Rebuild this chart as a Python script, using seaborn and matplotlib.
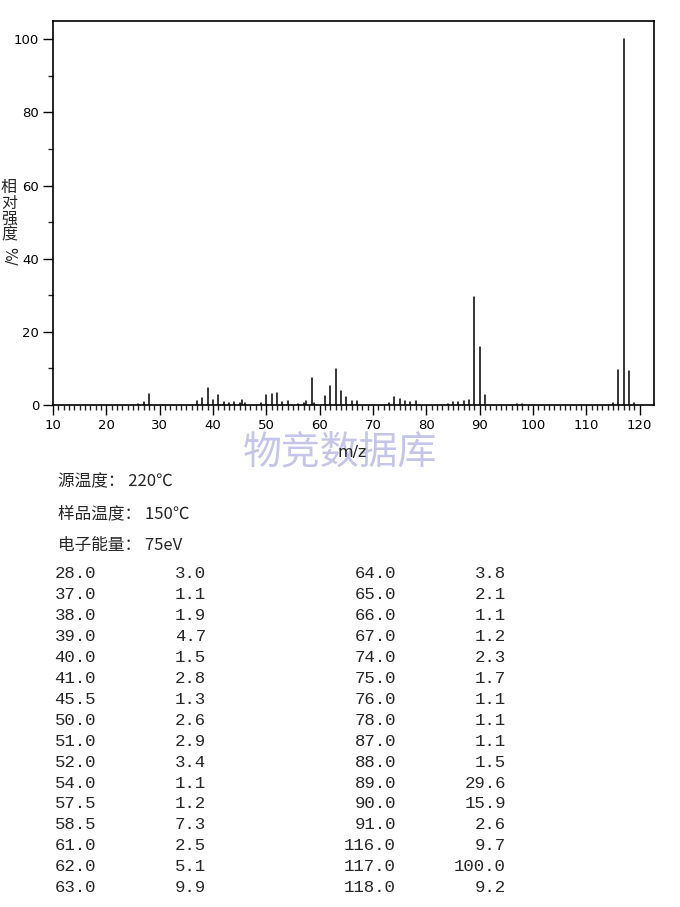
import numpy as np
import pandas as pd
import seaborn as sns
import matplotlib.pyplot as plt
from matplotlib.ticker import MultipleLocator, FixedLocator

sns.set_style("white")
plt.rcParams['font.family'] = ['DejaVu Sans', 'Noto Sans CJK SC']

# peaks listed in the table (m/z, relative intensity %)
mz_left = [28.0, 37.0, 38.0, 39.0, 40.0, 41.0, 45.5, 50.0, 51.0, 52.0, 54.0, 57.5, 58.5, 61.0, 62.0, 63.0]
int_left = [3.0, 1.1, 1.9, 4.7, 1.5, 2.8, 1.3, 2.6, 2.9, 3.4, 1.1, 1.2, 7.3, 2.5, 5.1, 9.9]
mz_right = [64.0, 65.0, 66.0, 67.0, 74.0, 75.0, 76.0, 78.0, 87.0, 88.0, 89.0, 90.0, 91.0, 116.0, 117.0, 118.0]
int_right = [3.8, 2.1, 1.1, 1.2, 2.3, 1.7, 1.1, 1.1, 1.1, 1.5, 29.6, 15.9, 2.6, 9.7, 100.0, 9.2]

# small peaks (<1%)
mz_small = [26, 27, 42, 43, 44, 45, 46, 49, 53, 56, 57, 59, 73, 77, 84, 85, 86, 97, 98, 115, 119]
int_small = [0.4, 0.8, 0.7, 0.6, 0.8, 0.5, 0.5, 0.6, 0.9, 0.4, 0.5, 0.6, 0.6, 0.8, 0.4, 0.7, 0.7, 0.3, 0.4, 0.5, 0.6]

info_lines = ["源温度： 220℃", "样品温度： 150℃", "电子能量： 75eV"]

mz_all = mz_left + mz_right + mz_small
int_all = int_left + int_right + int_small
rows = []
for i, (m, v) in enumerate(zip(mz_all, int_all)):
    rows.append({'peak': i, 'mz': m, 'inten': 0.0})
    rows.append({'peak': i, 'mz': m, 'inten': v})
df = pd.DataFrame(rows)

fig = plt.figure(figsize=(6.8, 9.07), dpi=100)
ax = fig.add_axes([53 / 680, 1 - 405 / 907, (654 - 53) / 680, (405 - 21) / 907])

sns.lineplot(data=df, x='mz', y='inten', units='peak', estimator=None,
             color='black', lw=1.1, ax=ax, legend=False, sort=False)

ax.set_xlim(10, 122.7)
ax.set_ylim(0, 105)
ax.xaxis.set_major_locator(MultipleLocator(10))
ax.xaxis.set_minor_locator(FixedLocator(np.arange(10, 121, 1)))
ax.yaxis.set_major_locator(MultipleLocator(20))
ax.yaxis.set_minor_locator(MultipleLocator(10))
ax.tick_params(which='major', direction='out', length=7, width=1, labelsize=9.5, pad=3,
               bottom=True, left=True, colors='black')
ax.tick_params(which='minor', direction='out', length=3.5, width=1, bottom=True, left=True)
ax.set_xlabel('')
ax.set_ylabel('')
for s in ax.spines.values():
    s.set_color('black')
    s.set_linewidth(1.2)

# stacked y label
fig.text(9 / 680, 1 - 211 / 907, "相\n对\n强\n度", ha='center', va='center',
         fontsize=11.5, family=['Noto Sans CJK SC'], linespacing=0.9)
fig.text(9 / 680, 1 - 256 / 907, "%/", ha='center', va='center', fontsize=10.5, rotation=-90)

# watermark and x label
fig.text(340 / 680, 1 - 453 / 907, "物竞数据库", ha='center', va='center', fontsize=28,
         color='#c5c5ea', family=['Noto Sans CJK SC'])
fig.text(352 / 680, 1 - 452 / 907, "m/z", ha='center', va='center', fontsize=11.5)

for k, line in enumerate(info_lines):
    fig.text(58 / 680, 1 - (482 + 31.5 * k) / 907, line, ha='left', va='center',
             fontsize=12, family=['Noto Sans CJK SC', 'DejaVu Sans'])

# peak table
for r in range(len(mz_left)):
    y = 1 - (574 + 20.9 * r) / 907
    cells = [(96, mz_left[r]), (206, int_left[r]), (396, mz_right[r]), (506, int_right[r])]
    for x, val in cells:
        fig.text(x / 680, y, f"{val:.1f}", ha='right', va='center', fontsize=12.5,
                 family='Liberation Mono')

fig.savefig('out.png', dpi=100)
